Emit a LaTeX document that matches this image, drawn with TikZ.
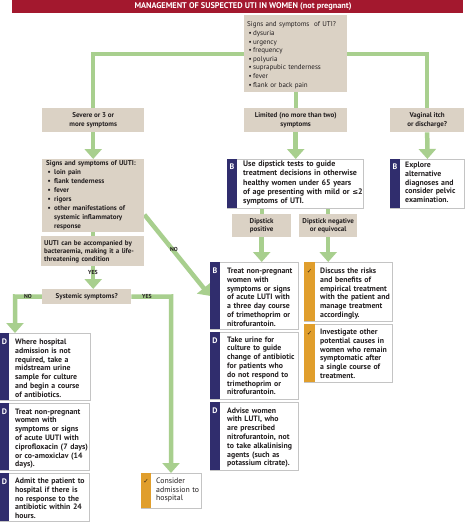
\documentclass[tikz,border=0pt]{standalone}
\usepackage{fontspec}
\setmainfont{PT Sans}
\newfontfamily\dejavu{DejaVu Sans}
\usetikzlibrary{arrows.meta,backgrounds}
\definecolor{tanc}{HTML}{DBD2C5}
\definecolor{grc}{HTML}{A8CF8E}
\definecolor{purc}{HTML}{302D6D}
\definecolor{orgc}{HTML}{E09E2C}
\definecolor{ttlc}{HTML}{A3182E}
\definecolor{inkc}{HTML}{231F20}
\definecolor{bordc}{HTML}{C4C4C4}
\definecolor{chkc}{HTML}{3B2A14}
\newcommand\bulA{\hspace*{1.5pt}\makebox[4.5pt][l]{\textbullet}}
\newcommand\bulB{\hspace*{1.5pt}\makebox[6.5pt][l]{\textbullet}}
\newcommand\bulI{\hspace*{8pt}}
\tikzset{
  sz/.style 2 args={minimum width=#1pt, minimum height=#2pt},
  tanbox/.style={fill=tanc, inner sep=0pt, anchor=north west},
  whbox/.style={fill=white, draw=bordc, line width=0.8pt, inner sep=0pt, anchor=north west},
  band/.style={inner sep=0pt, anchor=north west, minimum width=10pt},
  txt/.style={anchor=base west, inner sep=0pt, align=left, text=inkc, text width=140pt, font=\fontsize{7.8pt}{8.8pt}\selectfont\bfseries},
  ttxt/.style={anchor=base west, inner sep=0pt, align=left, text=inkc, text width=140pt, font=\fontsize{7pt}{8.9pt}\selectfont\bfseries},
  txtr/.style={anchor=base west, inner sep=0pt, align=left, text=inkc, text width=140pt, font=\fontsize{7pt}{8.6pt}\selectfont},
  ctxt/.style={inner sep=0pt, align=center, text=inkc, font=\fontsize{7pt}{8.4pt}\selectfont\bfseries},
  lett/.style={inner sep=0pt, text=white, font=\fontsize{8pt}{9pt}\selectfont\bfseries},
  chk/.style={inner sep=0pt, text=chkc, font=\fontsize{6.5pt}{7pt}\selectfont\dejavu},
  lbl/.style={inner sep=0pt, text=inkc, font=\fontsize{5.8pt}{6pt}\selectfont\bfseries},
  gl/.style={draw=grc, line width=4.2pt},
  ga/.style={draw=grc, line width=4.5pt, -{Triangle[width=17pt,length=10pt]}},
}
\begin{document}
\begin{tikzpicture}[x=1pt,y=-1pt]
\path[use as bounding box] (0,0) rectangle (474,524);

% title
\node[fill=ttlc, sz={451}{13}, inner sep=0pt, anchor=north west] (title) at (12,0) {};
\node[inner sep=0pt, text=white, font=\fontsize{8.3pt}{9pt}\selectfont\bfseries] (title-t) at (243,6.5) {MANAGEMENT OF SUSPECTED UTI IN WOMEN (not pregnant)};

% top box
\node[tanbox, sz={103}{77}] (top) at (244,15) {};
\node[txtr] (top-t) at (247,27) {Signs and symptoms\ \ of UTI?\\\bulA dysuria\\\bulA urgency\\\bulA frequency\\\bulA polyuria\\\bulA suprapubic tenderness\\\bulA fever\\\bulA flank or back pain};

% second row
\node[tanbox, sz={102}{24}] (severe) at (42,108) {};
\node[ctxt] (severe-t) at (severe.center) {Severe or 3 or\\more symptoms};
\node[tanbox, sz={103}{24}] (limited) at (244,108) {};
\node[ctxt] (limited-t) at (limited.center) {Limited (no more than two)\\symptoms};
\node[tanbox, sz={74}{24}] (vaginal) at (390,108) {};
\node[ctxt] (vaginal-t) at (vaginal.center) {Vaginal itch\\or discharge?};

% UUTI
\node[tanbox, sz={102}{73}] (uuti) at (42,159) {};
\node[ttxt, font=\fontsize{7pt}{9pt}\selectfont\bfseries] (uuti-t) at (46,165.5) {Signs and symptoms of UUTI:\\\bulB loin pain\\\bulB flank tenderness\\\bulB fever\\\bulB rigors\\\bulB other manifestations of\\\bulI systemic inflammatory\\\bulI response};

\node[tanbox, sz={103}{30}] (ucan) at (41,236) {};
\node[ttxt, font=\fontsize{7pt}{8.4pt}\selectfont\bfseries] (ucan-t) at (44,245) {UUTI can be accompanied by\\bacteraemia, making it a life-\\threatening condition};

\node[tanbox, sz={89}{15}] (sys) at (42,289) {};
\node[ctxt] (sys-t) at (sys.center) {Systemic symptoms?};

% dipstick B box
\node[whbox, sz={136}{49}] (dip) at (227,159) {};
\node[band, fill=purc, minimum height=49pt] (dip-b) at (227,159) {};
\node[lett] (dip-l) at (232,166.5) {B};
\node[txt, font=\fontsize{8pt}{9.3pt}\selectfont\bfseries] (dip-t) at (243,166.5) {Use dipstick tests to guide\\treatment decisions in otherwise\\healthy women under 65 years\\of age presenting with mild or {\dejavu\fontsize{7pt}{8pt}\selectfont ≤}2\\symptoms of UTI.};

\node[tanbox, sz={59}{23}] (dpos) at (232,214) {};
\node[ctxt] (dpos-t) at (dpos.center) {Dipstick\\positive};
\node[tanbox, sz={58}{23}] (dneg) at (299,214) {};
\node[ctxt] (dneg-t) at (dneg.center) {Dipstick negative\\or equivocal};

% explore
\node[whbox, sz={74}{49}] (explore) at (390,159) {};
\node[band, fill=purc, minimum height=49pt] (explore-b) at (390,159) {};
\node[lett] (explore-l) at (395,166.5) {B};
\node[txt, font=\fontsize{7.8pt}{8.8pt}\selectfont\bfseries] (explore-t) at (405,167.5) {Explore\\alternative\\diagnoses and\\consider pelvic\\examination.};

% right column
\node[whbox, sz={88}{67}] (treatB) at (210,262) {};
\node[band, fill=purc, minimum height=67pt] (treatB-b) at (210,262) {};
\node[lett] (treatB-l) at (215,271) {B};
\node[txt] (treatB-t) at (227,273.5) {Treat non-pregnant\\women with\\symptoms or signs\\of acute LUTI with\\a three day course\\of trimethoprim or\\nitrofurantoin.};

\node[whbox, sz={88}{67}] (takeD) at (210,332) {};
\node[band, fill=purc, minimum height=67pt] (takeD-b) at (210,332) {};
\node[lett] (takeD-l) at (215,340.5) {D};
\node[txt] (takeD-t) at (227,342) {Take urine for\\culture to guide\\change of antibiotic\\for patients who\\do not respond to\\trimethoprim or\\nitrofurantoin.};

\node[whbox, sz={88}{68}] (adviseD) at (210,402) {};
\node[band, fill=purc, minimum height=68pt] (adviseD-b) at (210,402) {};
\node[lett] (adviseD-l) at (215,411) {D};
\node[txt] (adviseD-t) at (227,413) {Advise women\\with LUTI, who\\are prescribed\\nitrofurantoin, not\\to take alkalinising\\agents (such as\\potassium citrate).};

\node[whbox, sz={88}{59}] (discuss) at (304,262) {};
\node[band, fill=orgc, minimum height=59pt, minimum width=11pt] (discuss-b) at (304,262) {};
\node[chk] (discuss-l) at (309.5,271) {✓};
\node[txt] (discuss-t) at (320,273.5) {Discuss the risks\\and benefits of\\empirical treatment\\with the patient and\\manage treatment\\accordingly.};

\node[whbox, sz={88}{58}] (invest) at (304,324) {};
\node[band, fill=orgc, minimum height=58pt, minimum width=11pt] (invest-b) at (304,324) {};
\node[chk] (invest-l) at (309.5,333) {✓};
\node[txt] (invest-t) at (320,334.5) {Investigate other\\potential causes in\\women who remain\\symptomatic after\\a single course of\\treatment.};

% left column
\node[whbox, sz={90}{67}] (where) at (0,333) {};
\node[band, fill=purc, minimum height=67pt, minimum width=9pt] (where-b) at (0,333) {};
\node[lett] (where-l) at (4.5,342) {D};
\node[txt] (where-t) at (15,344.5) {Where hospital\\admission is not\\required, take a\\midstream urine\\sample for culture\\and begin a course\\of antibiotics.};

\node[whbox, sz={89}{67}] (treatD) at (0,403) {};
\node[band, fill=purc, minimum height=67pt, minimum width=9pt] (treatD-b) at (0,403) {};
\node[lett] (treatD-l) at (4.5,412) {D};
\node[txt] (treatD-t) at (15,414) {Treat non-pregnant\\women with\\symptoms or signs\\of acute UUTI with\\ciprofloxacin (7 days)\\or co-amoxiclav (14\\days).};

\node[whbox, sz={89}{48}] (admit) at (0,473) {};
\node[band, fill=purc, minimum height=48pt, minimum width=9pt] (admit-b) at (0,473) {};
\node[lett] (admit-l) at (4.5,482) {D};
\node[txt] (admit-t) at (15,483.5) {Admit the patient to\\hospital if there is\\no response to the\\antibiotic within 24\\hours.};

% consider
\node[whbox, sz={60}{35}] (cons) at (141,473) {};
\node[band, fill=orgc, minimum height=35pt] (cons-b) at (141,473) {};
\node[chk] (cons-l) at (146,481) {✓};
\node[txtr, font=\fontsize{7.8pt}{8.7pt}\selectfont] (cons-t) at (156,483.5) {Consider\\admission to\\hospital};

% labels
\node[lbl] (yes1) at (93,272.5) {YES};
\node[lbl] (no1) at (28,296.5) {NO};
\node[lbl] (yes2) at (147,296.5) {YES};
\node[lbl] (no2) at (174,249) {NO};

\coordinate (nc) at (15,296.5);
\coordinate (yc) at (171,296.5);

\begin{pgfonlayer}{background}
\fill[white] (0,0) rectangle (474,524);
\draw[gl] (top.west) -| (severe.north);
\draw[gl] (top.east) -| (vaginal.north);
\draw[gl] (top.south) -- (top.south |- limited.north);
\draw[ga] (severe.south) -- (uuti.north);
\draw[ga] (limited.south) -- (limited.south |- dip.north);
\draw[ga] (vaginal.south) -- (explore.north);
\draw[gl] (uuti.south) -- (uuti.south |- ucan.north);
\draw[ga] (uuti.south |- ucan.south) -- (uuti.south |- sys.north);
\draw[ga] (sys.west) -- (nc) -- (nc |- where.north);
\draw[ga] (sys.east) -- (yc) -- (yc |- cons.north);
\draw[ga] ([yshift=-19pt]uuti.east) -- (treatB.west);
\draw[gl] (dpos.north) -- (dpos.north |- dip.south);
\draw[gl] (dneg.north) -- (dneg.north |- dip.south);
\draw[ga] (dpos.south) -- (dpos.south |- treatB.north);
\draw[ga] (dneg.south) -- (dneg.south |- discuss.north);
\end{pgfonlayer}
\end{tikzpicture}
\end{document}
